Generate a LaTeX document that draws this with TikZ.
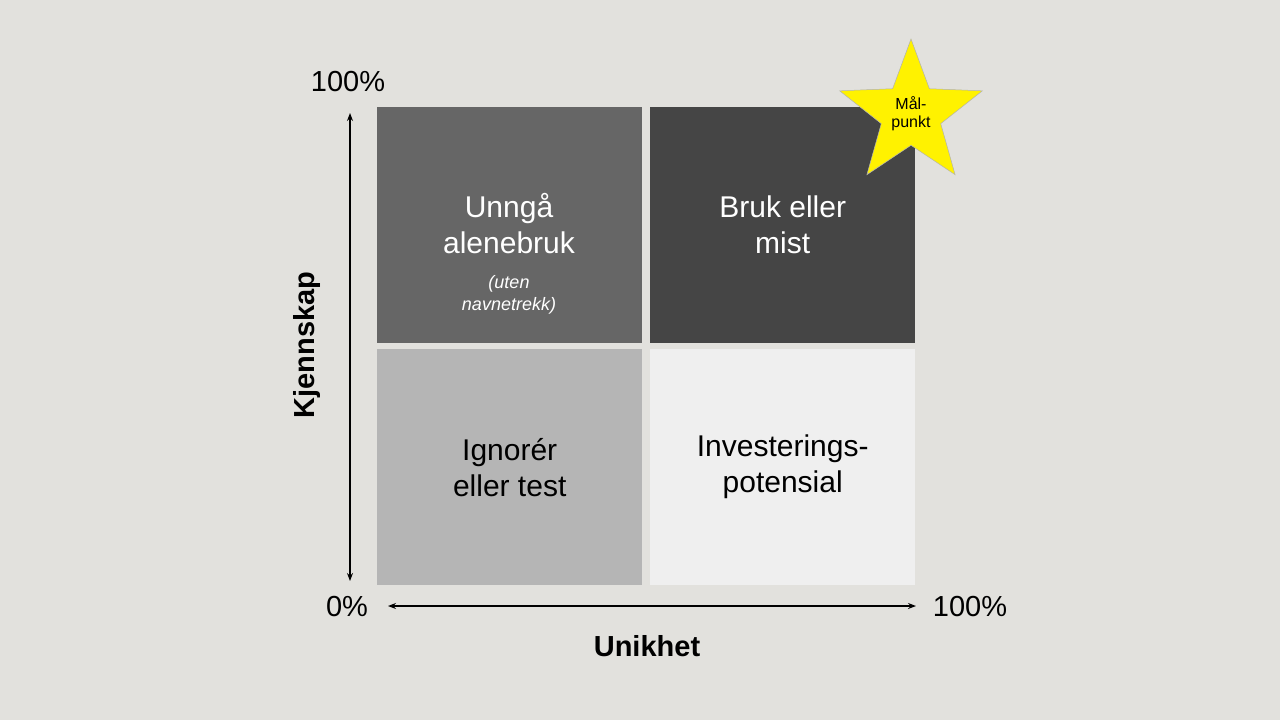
\documentclass[tikz,border=0pt]{standalone}
\usepackage{fontspec}
\setmainfont{Liberation Sans}
\usetikzlibrary{shapes.geometric,arrows.meta}
\definecolor{bg}{HTML}{E2E1DD}
\definecolor{cTL}{HTML}{666666}
\definecolor{cTR}{HTML}{454545}
\definecolor{cBL}{HTML}{B5B5B5}
\definecolor{cBR}{HTML}{EFEFEF}
\tikzset{
  quad/.style={anchor=north west, minimum width=265pt, minimum height=236pt, inner sep=0pt, align=center, font=\fontsize{30}{36}\selectfont},
  lbl/.style={font=\fontsize{29}{34}\selectfont},
  ax/.style={{Stealth[length=8pt,width=6pt]}-{Stealth[length=8pt,width=6pt]}, line width=1.2pt}
}
\begin{document}
\begin{tikzpicture}[x=1pt,y=-1pt]
\fill[bg] (0,0) rectangle (1280,720);
\useasboundingbox (0,0) rectangle (1280,720);
\node[quad, fill=cTL, text=white] (tl) at (377,107) {};
\node[text=white, align=center, font=\fontsize{30}{36}\selectfont] (tlt) at (509,224) {Unngå\\alenebruk};
\node[text=white, align=center, font=\fontsize{18}{22}\selectfont\itshape] (tls) at (509,295) {(uten\\navnetrekk)};
\node[quad, fill=cTR, text=white] (tr) at (650,107) {Bruk eller\\mist};
\node[quad, fill=cBL] (bl) at (377,349) {Ignorér\\eller test};
\node[quad, fill=cBR] (br) at (650,349) {Investerings-\\potensial};
\coordinate (vt) at (350,113);
\coordinate (vb) at (350,581);
\coordinate (hl) at (388,606);
\coordinate (hr) at (916,606);
\draw[ax] (vt) -- (vb);
\draw[ax] (hl) -- (hr);
\node[lbl] (p100a) at (348,82) {100\%};
\node[lbl] (p0) at (347,607) {0\%};
\node[lbl] (p100b) at (970,607) {100\%};
\node[font=\fontsize{29}{34}\selectfont\bfseries] (ux) at (647,646) {Unikhet};
\node[font=\fontsize{29}{34}\selectfont\bfseries, rotate=90] (uy) at (307,345) {Kjennskap};
\node[star, star points=5, star point ratio=2.4, minimum size=150pt, fill=yellow, draw=gray!60, line width=0.5pt, align=center, inner sep=0pt, font=\fontsize{16}{18}\selectfont] (st) at (911,114) {Mål-\\punkt};
\end{tikzpicture}
\end{document}
